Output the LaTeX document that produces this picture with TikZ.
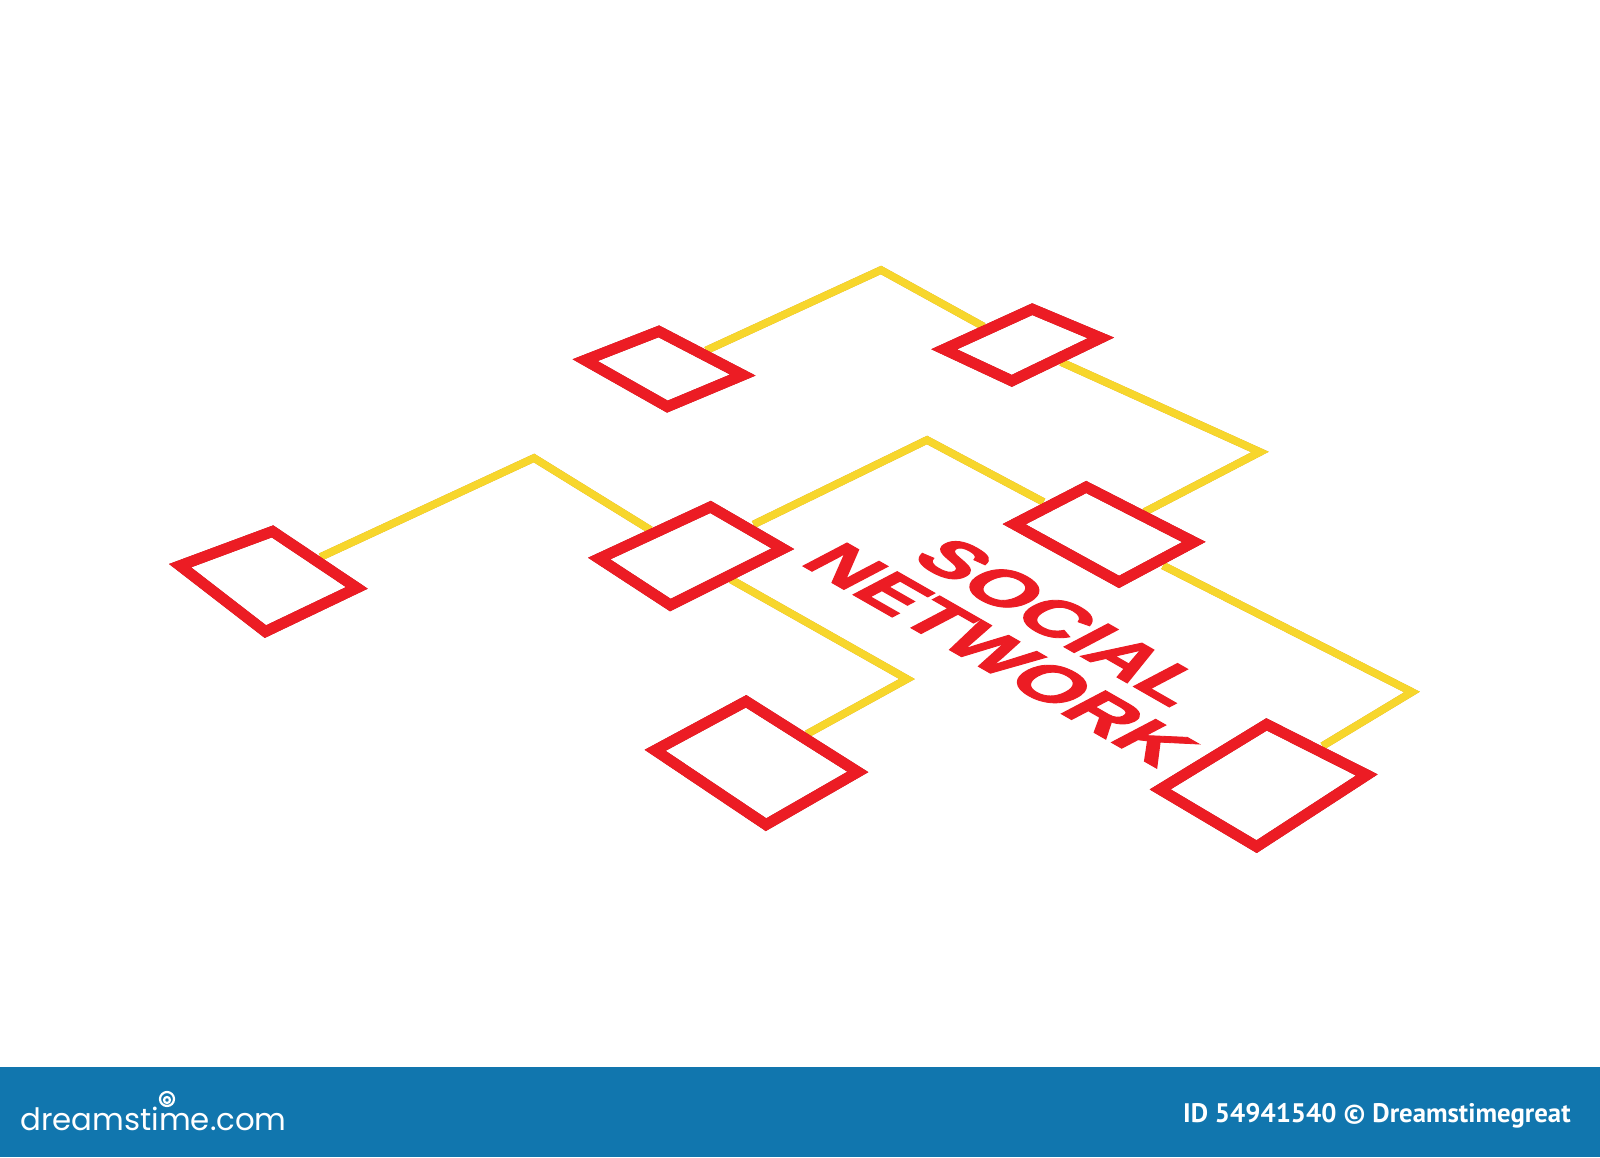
\documentclass[tikz,border=0pt]{standalone}
\usepackage{fontspec}
\usetikzlibrary{calc}
\newfontfamily\heavyfont{Liberation Sans Bold}[FakeBold=1.6]
\newfontfamily\logofont{Poppins}
\newfontfamily\idfont{PT Sans}
\definecolor{framered}{RGB}{236,28,36}
\definecolor{framedark}{RGB}{180,10,16}
\definecolor{linkyellow}{RGB}{247,214,44}
\definecolor{linkdark}{RGB}{215,160,18}
\definecolor{barblue}{RGB}{17,118,174}
% define the four outer corners of a box and its edge midpoints
\newcommand\defbox[5]{%
  \coordinate (#1-l) at #2;
  \coordinate (#1-t) at #3;
  \coordinate (#1-r) at #4;
  \coordinate (#1-b) at #5;
  \coordinate (#1-c) at ($0.25*(#1-l)+0.25*(#1-t)+0.25*(#1-r)+0.25*(#1-b)$);
  \coordinate (#1-lt) at ($(#1-l)!0.5!(#1-t)$);
  \coordinate (#1-tr) at ($(#1-t)!0.5!(#1-r)$);
  \coordinate (#1-rb) at ($(#1-r)!0.5!(#1-b)$);
  \coordinate (#1-bl) at ($(#1-b)!0.5!(#1-l)$);
}
\newcommand\drawbox[1]{%
  \draw[boxshade] ($(#1-l)!5.6pt!(#1-c)$) -- ($(#1-t)!3.2pt!(#1-c)$) -- ($(#1-r)!5.6pt!(#1-c)$) -- ($(#1-b)!3.2pt!(#1-c)$) -- cycle;
  \draw[boxframe] ($(#1-l)!5.6pt!(#1-c)$) -- ($(#1-t)!3.2pt!(#1-c)$) -- ($(#1-r)!5.6pt!(#1-c)$) -- ($(#1-b)!3.2pt!(#1-c)$) -- cycle;
}
\tikzset{
  boxframe/.style={draw=framered, line width=5.4pt, line join=miter},
  boxshade/.style={draw=framedark, line width=5.4pt, line join=miter, yshift=-1.5pt},
  link/.style={draw=linkyellow, line width=3.8pt, line join=miter},
  linkshade/.style={draw=linkdark, line width=3.8pt, line join=miter, yshift=-1.2pt},
  titletext/.style={font=\heavyfont\fontsize{40}{39}\selectfont, align=center, inner sep=0pt,
    cm={0.868,-0.496,0.80,0.42,(0,0)}},
}
\begin{document}
\begin{tikzpicture}[x=0.5pt, y=-0.5pt]
\useasboundingbox (0,0) rectangle (1600,1157);
\fill[white] (0,0) rectangle (1600,1157);

% boxes (outer corners: left, top, right, bottom)
\defbox{A}{(574,359)}{(658,325)}{(754,376)}{(668,413)}
\defbox{B}{(933,350)}{(1034,303)}{(1112,337)}{(1010,387)}
\defbox{C}{(169,564)}{(273,525)}{(368,589)}{(265,638)}
\defbox{D}{(588,559)}{(713,501)}{(794,548)}{(668,611)}
\defbox{E}{(1003,523)}{(1084,481)}{(1205,543)}{(1121,588)}
\defbox{F}{(644,749)}{(745,695)}{(869,773)}{(767,831)}
\defbox{G}{(1149,790)}{(1267,718)}{(1378,774)}{(1256,853)}

% connector bends
\coordinate (k1) at (881,270);
\coordinate (k2) at (1260,452);
\coordinate (k3) at (534,458);
\coordinate (k4) at (927,440);
\coordinate (k5) at (907,679);
\coordinate (k6) at (1412,692);

% connectors
\foreach \s/\k/\e in {A-tr/k1/B-lt, B-rb/k2/E-tr, C-tr/k3/D-lt, D-tr/k4/E-lt, D-rb/k5/F-tr, E-rb/k6/G-tr}{
  \draw[linkshade] (\s) -- (\k) -- (\e);
  \draw[link] (\s) -- (\k) -- (\e);
}

% boxes
\drawbox{A}
\drawbox{B}
\drawbox{C}
\drawbox{D}
\drawbox{E}
\drawbox{F}
\drawbox{G}

% title
\node[titletext, text=framered] (title) at (1031,638) {SOCIAL\\NETWORK};

% bottom bar
\fill[barblue] (0,1067) rectangle (1600,1157);
\node[anchor=base west, inner sep=0pt, text=white, font=\logofont\fontsize{15.4}{18}\selectfont] (logo) at (20,1130) {dreamstime.com};
\draw[white, line width=1.1pt] (167,1099) circle (7);
\draw[white, line width=1.1pt] (167,1100) circle (3);
\node[anchor=base east, inner sep=0pt, text=white, font=\idfont\bfseries\fontsize{13.4}{15}\selectfont] (credit) at (1571,1122) {ID 54941540 © Dreamstimegreat};
\end{tikzpicture}
\end{document}
